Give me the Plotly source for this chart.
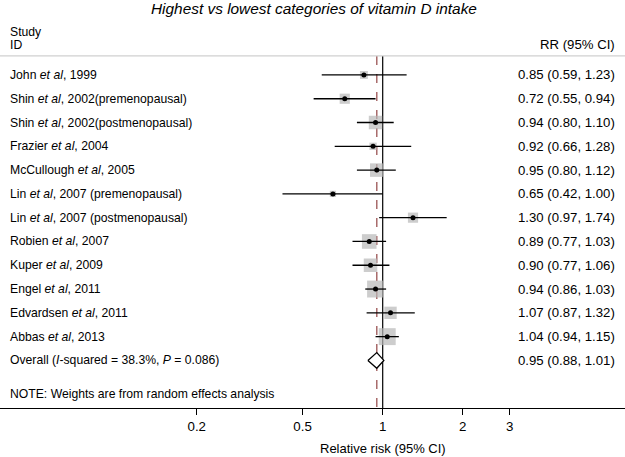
import plotly.graph_objects as go

# study data
studies = ["John <i>et al</i>, 1999",
           "Shin <i>et al</i>, 2002(premenopausal)",
           "Shin <i>et al</i>, 2002(postmenopausal)",
           "Frazier <i>et al</i>, 2004",
           "McCullough <i>et al</i>, 2005",
           "Lin <i>et al</i>, 2007 (premenopausal)",
           "Lin <i>et al</i>, 2007 (postmenopausal)",
           "Robien <i>et al</i>, 2007",
           "Kuper <i>et al</i>, 2009",
           "Engel <i>et al</i>, 2011",
           "Edvardsen <i>et al</i>, 2011",
           "Abbas <i>et al</i>, 2013"]
rr = [0.85, 0.72, 0.94, 0.92, 0.95, 0.65, 1.30, 0.89, 0.90, 0.94, 1.07, 1.04]
lo = [0.59, 0.55, 0.80, 0.66, 0.80, 0.42, 0.97, 0.77, 0.77, 0.86, 0.87, 0.94]
hi = [1.23, 0.94, 1.10, 1.28, 1.12, 1.00, 1.74, 1.03, 1.06, 1.03, 1.32, 1.15]
weights = [3.4, 5.6, 9.9, 2.9, 9.9, 2.1, 5.6, 11.6, 9.9, 15.5, 8.3, 15.5]

overall_label = "Overall (<i>I</i>-squared = 38.3%, <i>P</i> = 0.086)"
overall_rr, overall_lo, overall_hi = 0.95, 0.88, 1.01

tick_vals = [0.2, 0.5, 1, 2, 3]
tick_text = ["0.2", "0.5", "1", "2", "3"]

FONT = "Liberation Sans, Arial, sans-serif"
fs_left = 12.2
fs_right = 13.2

rows = list(range(len(studies)))
n = len(studies)
top = -0.8
bottom = 14

fig = go.Figure()

# CI lines
cx, cy = [], []
for i in rows:
    cx += [lo[i], hi[i], None]
    cy += [i, i, None]

# overall dashed line and null line
fig.add_trace(go.Scatter(x=[overall_rr, overall_rr], y=[top, bottom], mode="lines",
                         line=dict(color="#a86a6a", width=1.5, dash="dash")))
fig.add_trace(go.Scatter(x=[1, 1], y=[top, bottom], mode="lines",
                         line=dict(color="black", width=1.2)))

# weight boxes
fig.add_trace(go.Scatter(x=rr, y=rows, mode="markers",
                         marker=dict(symbol="square", color="#b8b8b8",
                                     size=[4.3 * w ** 0.5 for w in weights],
                                     line=dict(width=0))))
fig.add_trace(go.Scatter(x=cx, y=cy, mode="lines",
                         line=dict(color="black", width=1.3)))
fig.add_trace(go.Scatter(x=rr, y=rows, mode="markers",
                         marker=dict(symbol="circle", color="black", size=5)))

# overall diamond
h = 0.33
fig.add_trace(go.Scatter(x=[overall_lo, overall_rr, overall_hi, overall_rr, overall_lo],
                         y=[n, n - h, n, n + h, n], mode="lines",
                         fill="toself", fillcolor="white",
                         line=dict(color="black", width=1.3)))

L = dict(size=fs_left)
R = dict(size=fs_right)
ann = []
for i in rows:
    ann.append(dict(x=8 / 625, y=i, xref="paper", yref="y", text=studies[i],
                    xanchor="left", showarrow=False, font=L))
    ann.append(dict(x=617 / 625, y=i, xref="paper", yref="y",
                    text="%.2f (%.2f, %.2f)" % (rr[i], lo[i], hi[i]),
                    xanchor="right", showarrow=False, font=R))
ann.append(dict(x=8 / 625, y=n, xref="paper", yref="y", text=overall_label,
                xanchor="left", showarrow=False, font=L))
ann.append(dict(x=617 / 625, y=n, xref="paper", yref="y",
                text="%.2f (%.2f, %.2f)" % (overall_rr, overall_lo, overall_hi),
                xanchor="right", showarrow=False, font=R))
ann.append(dict(x=8 / 625, y=13.4, xref="paper", yref="y",
                text="NOTE: Weights are from random effects analysis",
                xanchor="left", showarrow=False, font=L))
ann.append(dict(x=8 / 625, y=-1.8, xref="paper", yref="y", text="Study",
                xanchor="left", showarrow=False, font=L))
ann.append(dict(x=8 / 625, y=-1.27, xref="paper", yref="y", text="ID",
                xanchor="left", showarrow=False, font=L))
ann.append(dict(x=617 / 625, y=-1.27, xref="paper", yref="y", text="RR (95% CI)",
                xanchor="right", showarrow=False, font=R))
ann.append(dict(x=313.5 / 625, y=-2.78, xref="paper", yref="y",
                text="<i>Highest vs lowest categories of vitamin D intake</i>",
                xanchor="center", showarrow=False, font=dict(size=15.4)))
ann.append(dict(x=383 / 625, y=0, xref="paper", yref="paper", yshift=-40,
                text="Relative risk (95% CI)", xanchor="center", yanchor="middle",
                showarrow=False, font=dict(size=13)))

fig.update_layout(
    width=625, height=457,
    margin=dict(l=0, r=0, t=0, b=49),
    paper_bgcolor="white", plot_bgcolor="white",
    showlegend=False,
    hovermode=False,
    font=dict(family=FONT, size=13, color="black"),
    annotations=ann,
    shapes=[dict(type="line", xref="paper", yref="y", x0=0, x1=1, y0=top, y1=top,
                 line=dict(color="#d0d0d0", width=1.3))],
    xaxis=dict(type="log", range=[-1.4387, 0.9109], tickvals=tick_vals,
               ticktext=tick_text, ticks="outside", ticklen=6, tickcolor="black",
               showline=True, linecolor="black", linewidth=1.2, showgrid=False,
               zeroline=False, tickfont=dict(size=13.3)),
    yaxis=dict(range=[bottom, -3.15], visible=False, showgrid=False, zeroline=False),
)

fig.write_html("out.html", config={"displayModeBar": False},
               post_script="document.body.style.margin='0';document.body.style.overflow='hidden';")
